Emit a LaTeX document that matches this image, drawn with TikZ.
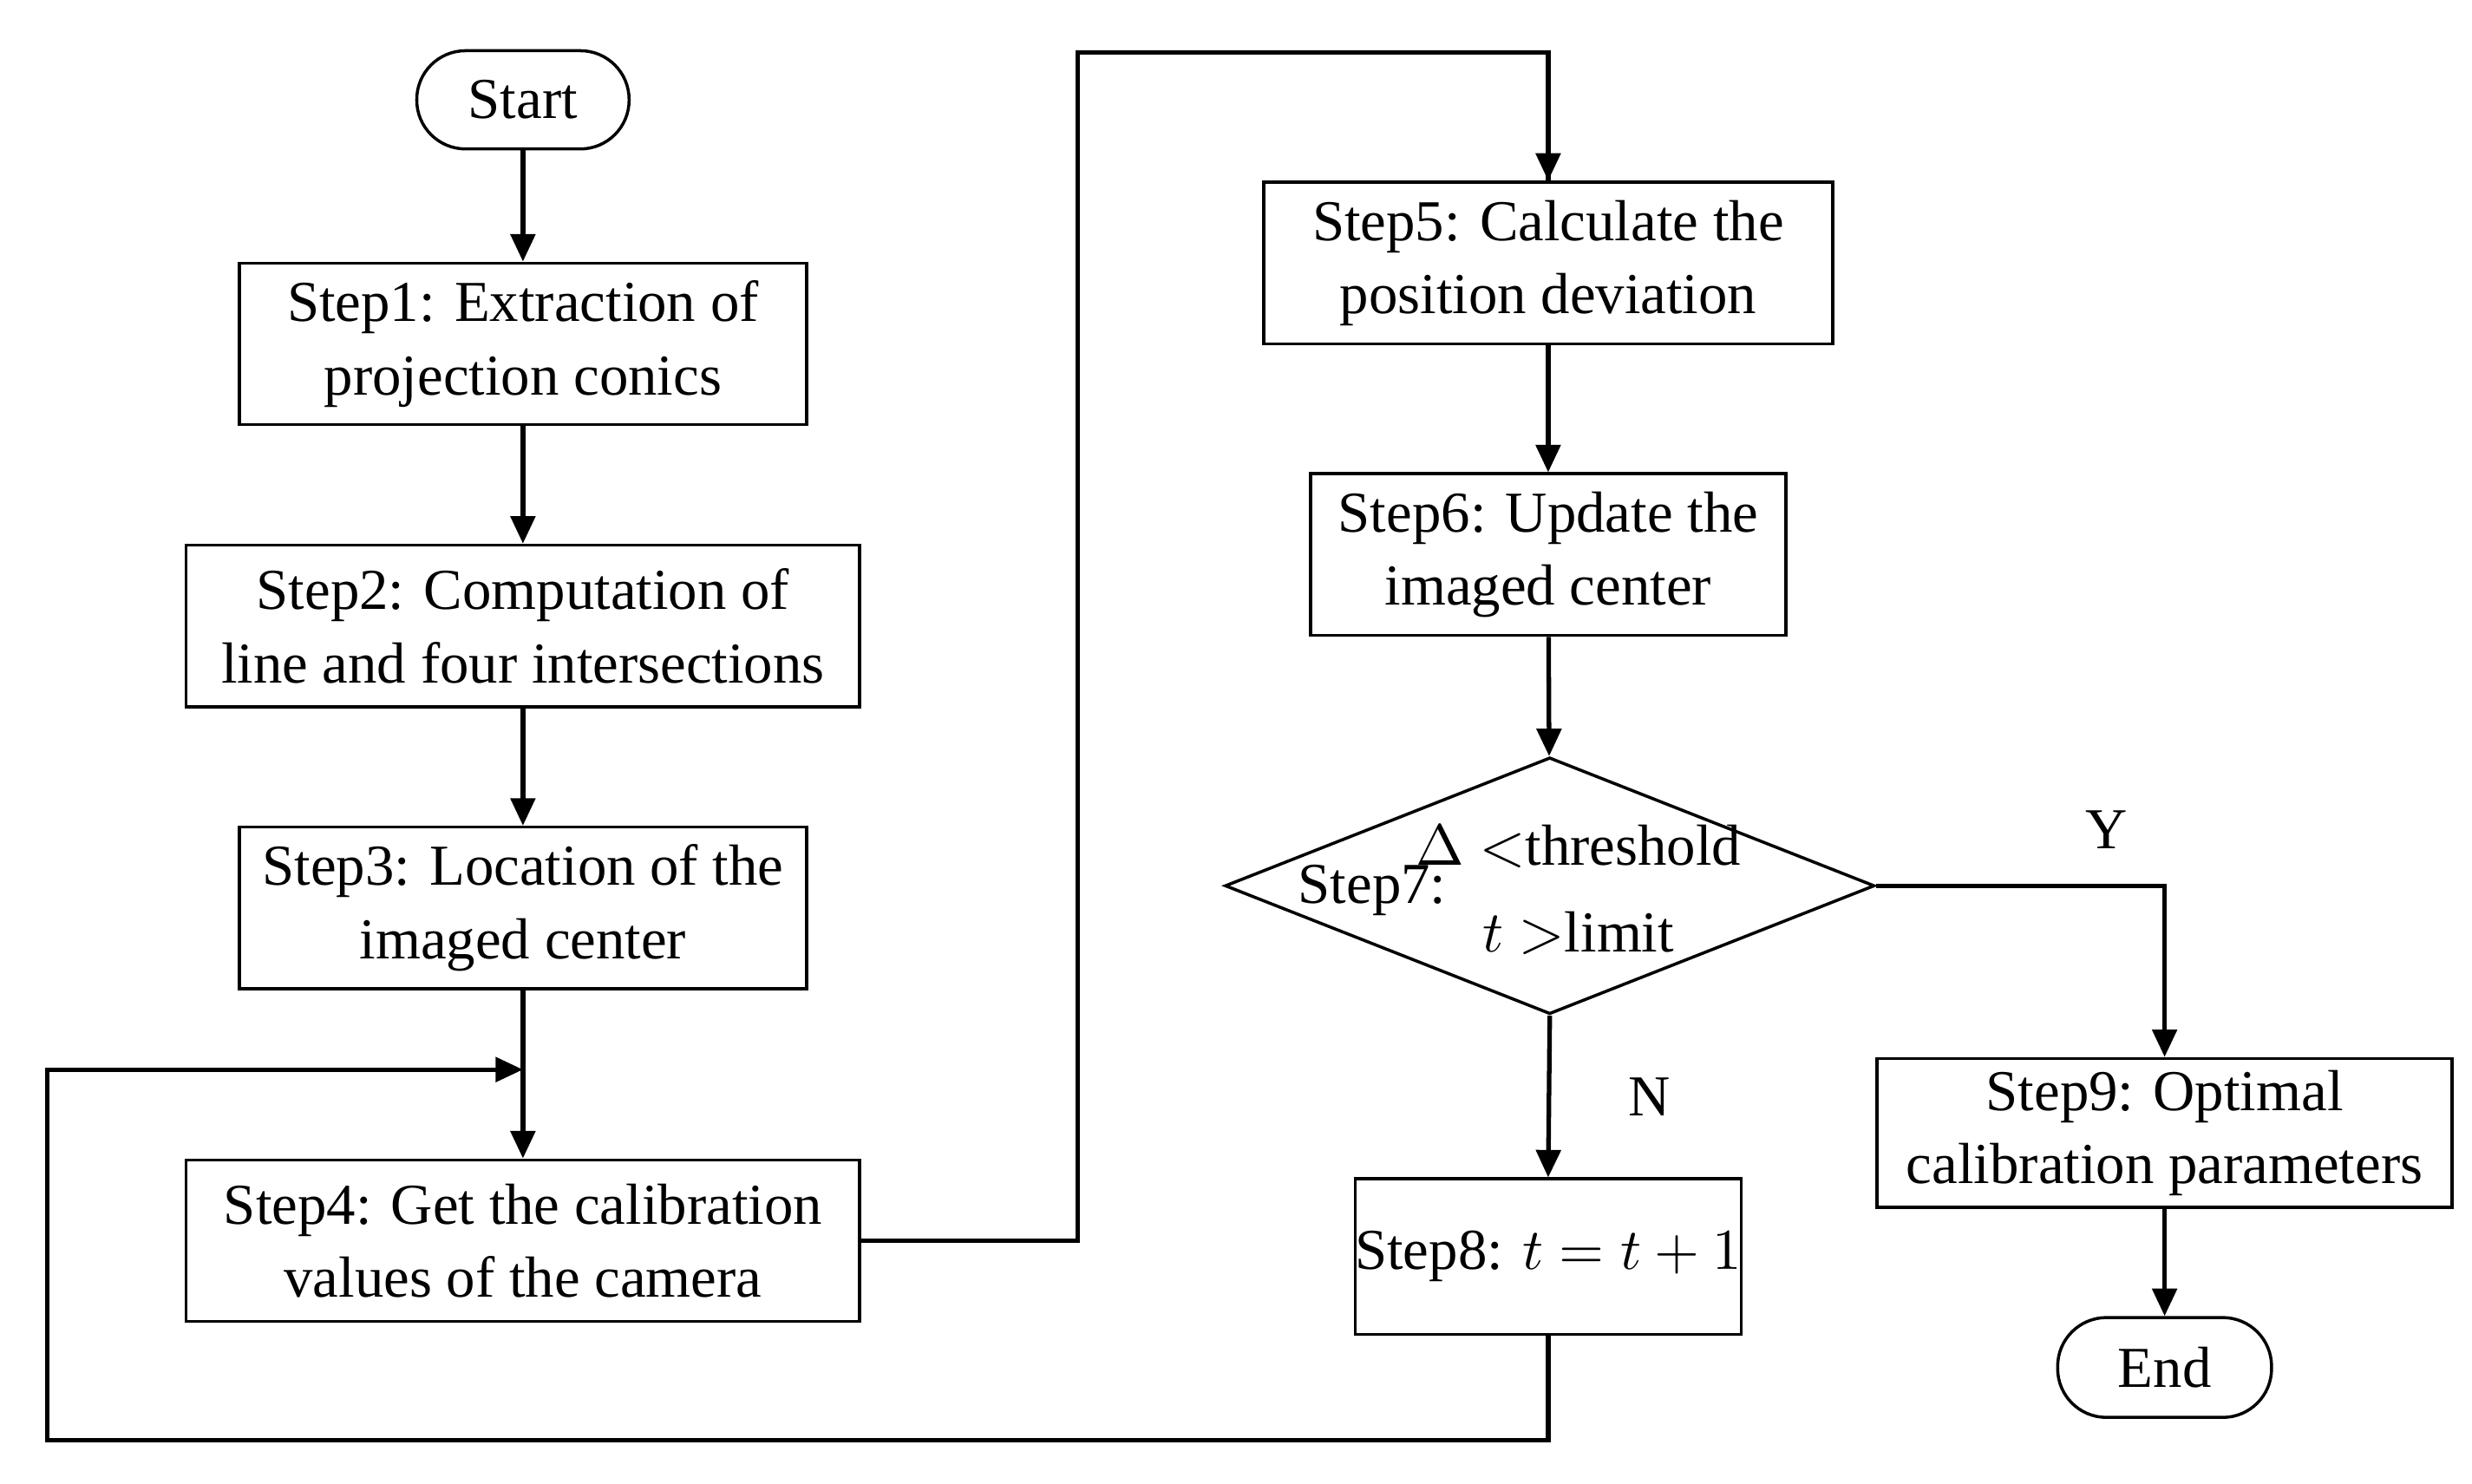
\documentclass[tikz,border=0pt]{standalone}
\usepackage{fontspec}
\setmainfont{Liberation Serif}
\usepackage{unicode-math}
\setmathfont{Latin Modern Math}
\usetikzlibrary{shapes.geometric,arrows.meta}
\tikzset{
    box/.style={draw,line width=1pt,align=center,inner sep=0pt},
    term/.style={draw,line width=1pt,rounded corners=16pt,align=center,inner sep=0pt},
    flow/.style={line width=1.5pt,-{Triangle[length=9pt,width=8pt]}},
    line/.style={line width=1.5pt}
}
\begin{document}
\begin{tikzpicture}[x=0.01827cm,y=-0.01827cm,font=\fontsize{19}{24}\selectfont]
        \useasboundingbox (0,0) rectangle (1560,936.5);
        \node[term,minimum width={134*0.01827cm},minimum height={62*0.01827cm}] (start) at (330,63) {Start};
        \node[box,minimum width={358*0.01827cm},minimum height={102*0.01827cm}] (s1) at (330,217) {Step1: Extraction of\\projection conics};
        \node[box,minimum width={425*0.01827cm},minimum height={102*0.01827cm}] (s2) at (330,395) {Step2: Computation of\\line and four intersections};
        \node[box,minimum width={358*0.01827cm},minimum height={102*0.01827cm}] (s3) at (330,573) {Step3: Location of the\\imaged center};
        \node[box,minimum width={425*0.01827cm},minimum height={102*0.01827cm}] (s4) at (330,783) {Step4: Get the calibration\\values of the camera};
        \node[box,minimum width={359*0.01827cm},minimum height={102*0.01827cm}] (s5) at (977,166) {Step5: Calculate the\\position deviation};
        \node[box,minimum width={300*0.01827cm},minimum height={102*0.01827cm}] (s6) at (977,350) {Step6: Update the\\imaged center};
        \node[draw,diamond,line width=1pt,inner sep=0pt,minimum width={410*0.01827cm},minimum height={162*0.01827cm}] (s7) at (978,559) {};
        \node (s7l) at (866,562) {Step7:};
        \node (s7a) at (996,534) {$\Delta<$threshold};
        \node (s7b) at (996,589) {$t>$limit};
        \node[box,minimum width={239*0.01827cm},minimum height={98*0.01827cm}] (s8) at (977,793) {Step8: $t=t+1$};
        \node[box,minimum width={363*0.01827cm},minimum height={94*0.01827cm}] (s9) at (1366,715) {Step9: Optimal\\calibration parameters};
        \node[term,minimum width={135*0.01827cm},minimum height={63*0.01827cm}] (end) at (1366,863) {End};
        \coordinate (join) at (330,675);
        % main column
        \draw[flow](start)--(s1);
        \draw[flow](s1)--(s2);
        \draw[flow](s2)--(s3);
        \draw[flow](s3)--(s4);
        \draw[line](s4.east)-|(680,33)-|(s5.north);
        \draw[flow](680,33)-|(s5.north);
        \draw[flow](s5)--(s6);
        \draw[flow](s6)--(s7);
        \draw[flow](s7.east)-|(s9.north) node[pos=0.4,above=8pt]{Y};
        \draw[flow](s7.south)--(s8.north) node[midway,right=22pt]{N};
        \draw[flow](s9)--(end);
        % loop back
        \draw[flow](s8.south)--(977,909)-|(30,675)--(join);
\end{tikzpicture}
\end{document}
